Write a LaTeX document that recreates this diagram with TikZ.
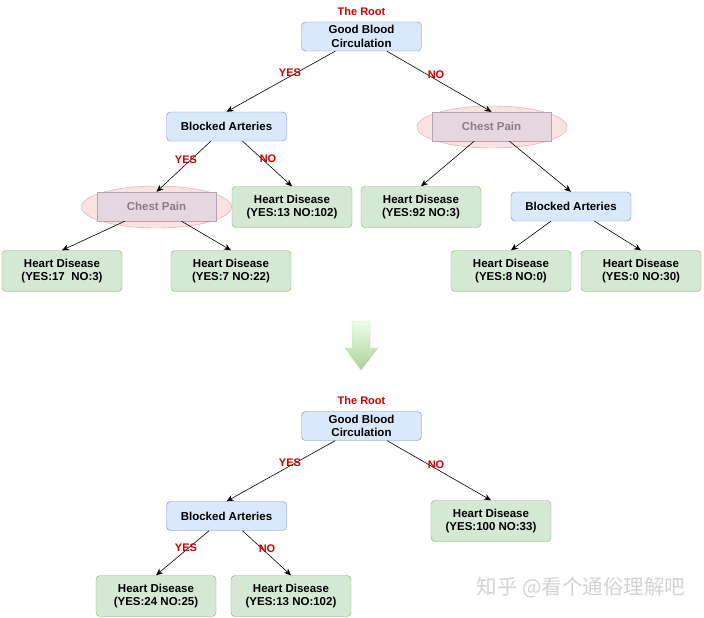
\documentclass[tikz,border=0pt]{standalone}
\usepackage{fontspec}
\setmainfont{Liberation Sans}
\newfontfamily\cjk{Noto Sans CJK SC}
\usetikzlibrary{arrows.meta,shapes.geometric}
\definecolor{bluefill}{HTML}{DAE8FC}
\definecolor{bluedraw}{HTML}{6C8EBF}
\definecolor{greenfill}{HTML}{D5E8D4}
\definecolor{greendraw}{HTML}{82B366}
\definecolor{ellfill}{HTML}{F9E3E2}
\definecolor{elldraw}{HTML}{E3A09C}
\definecolor{cpfill}{HTML}{E6D6DF}
\definecolor{cpdraw}{HTML}{B9A3B3}
\definecolor{cptext}{HTML}{8C7C85}
\definecolor{redtext}{HTML}{CC0000}
\begin{document}
\begin{tikzpicture}
[x=1pt,y=-1pt,
 every node/.style={font=\fontsize{11.5}{13.5}\selectfont\bfseries,align=center,inner sep=0pt},
 test/.style={rectangle,rounded corners=4pt,fill=bluefill,draw=bluedraw,minimum width=120pt,minimum height=29pt},
 leaf/.style={rectangle,rounded corners=4pt,fill=greenfill,draw=greendraw,minimum width=120pt,minimum height=41pt},
 cpell/.style={ellipse,fill=ellfill,draw=elldraw,minimum width=150pt,minimum height=42pt},
 cpbox/.style={rectangle,fill=cpfill,draw=cpdraw,text=cptext,minimum width=119pt,minimum height=29pt},
 yesno/.style={text=redtext,font=\fontsize{11}{13}\selectfont\bfseries},
 edge/.style={draw,line width=0.6pt,-{Stealth[length=7pt,width=6pt]}}]
    \useasboundingbox (0,0) rectangle (704,618);
    % before pruning
    \node[yesno] (roottag) at (361.5,12) {The Root};
    \node[test] (root) at (361.5,36.5) {Good Blood\\Circulation};
    \node[test] (ba) at (226.5,126.5) {Blocked Arteries};
    \node[cpell] (cpre) at (492,127) {};
    \node[cpbox] (cpr) at (491.5,126.5) {Chest Pain};
    \node[cpell] (cple) at (156.5,207) {};
    \node[cpbox] (cpl) at (156.5,206.5) {Chest Pain};
    \node[leaf] (hda) at (292,207) {Heart Disease\\(YES:13 NO:102)};
    \node[leaf] (hdb) at (421,207) {Heart Disease\\(YES:92 NO:3)};
    \node[test] (bar) at (571,206.5) {Blocked Arteries};
    \node[leaf] (hdc) at (62,271) {Heart Disease\\(YES:17\ \ NO:3)};
    \node[leaf] (hdd) at (231,271) {Heart Disease\\(YES:7 NO:22)};
    \node[leaf] (hde) at (511,271) {Heart Disease\\(YES:8 NO:0)};
    \node[leaf] (hdf) at (641,271) {Heart Disease\\(YES:0 NO:30)};
    \draw[edge] (root) -- (ba.north);
    \draw[edge] (root) -- (cpr.north);
    \draw[edge] (ba) -- (cpl.north);
    \draw[edge] (ba) -- (hda.north);
    \draw[edge] (cpl) -- (hdc.north);
    \draw[edge] (cpl) -- (hdd.north);
    \draw[edge] (cpr) -- (hdb.north);
    \draw[edge] (cpr) -- (bar.north);
    \draw[edge] (bar) -- (hde.north);
    \draw[edge] (bar) -- (hdf.north);
    \node[yesno] (ya) at (290,73) {YES};
    \node[yesno] (na) at (436,75) {NO};
    \node[yesno] (yb) at (186,160) {YES};
    \node[yesno] (nb) at (268,159) {NO};
    % arrow
    \shade[top color=green!8!white,bottom color=green!45!lime!40!gray!60!white,draw=green!30!gray!40]
        (352,321) -- (370,321) -- (370,348) -- (378,348) -- (361,370) -- (345,348) -- (352,348) -- cycle;
    % after pruning
    \node[yesno] (roottag2) at (361.5,401) {The Root};
    \node[test] (root2) at (361.5,426) {Good Blood\\Circulation};
    \node[test] (ba2) at (226.5,516) {Blocked Arteries};
    \node[leaf] (hdg) at (491,521) {Heart Disease\\(YES:100 NO:33)};
    \node[leaf] (hdh) at (156,596) {Heart Disease\\(YES:24 NO:25)};
    \node[leaf] (hdi) at (291,596) {Heart Disease\\(YES:13 NO:102)};
    \draw[edge] (root2) -- (ba2.north);
    \draw[edge] (root2) -- (hdg.north);
    \draw[edge] (ba2) -- (hdh.north);
    \draw[edge] (ba2) -- (hdi.north);
    \node[yesno] (yc) at (290,463) {YES};
    \node[yesno] (nc) at (436,465) {NO};
    \node[yesno] (yd) at (186,548) {YES};
    \node[yesno] (nd) at (267,549) {NO};
    \node[font=\cjk\fontsize{20.5}{20.5}\selectfont,text=gray!35] (mark) at (581,588) {知乎 @看个通俗理解吧};
\end{tikzpicture}
\end{document}
